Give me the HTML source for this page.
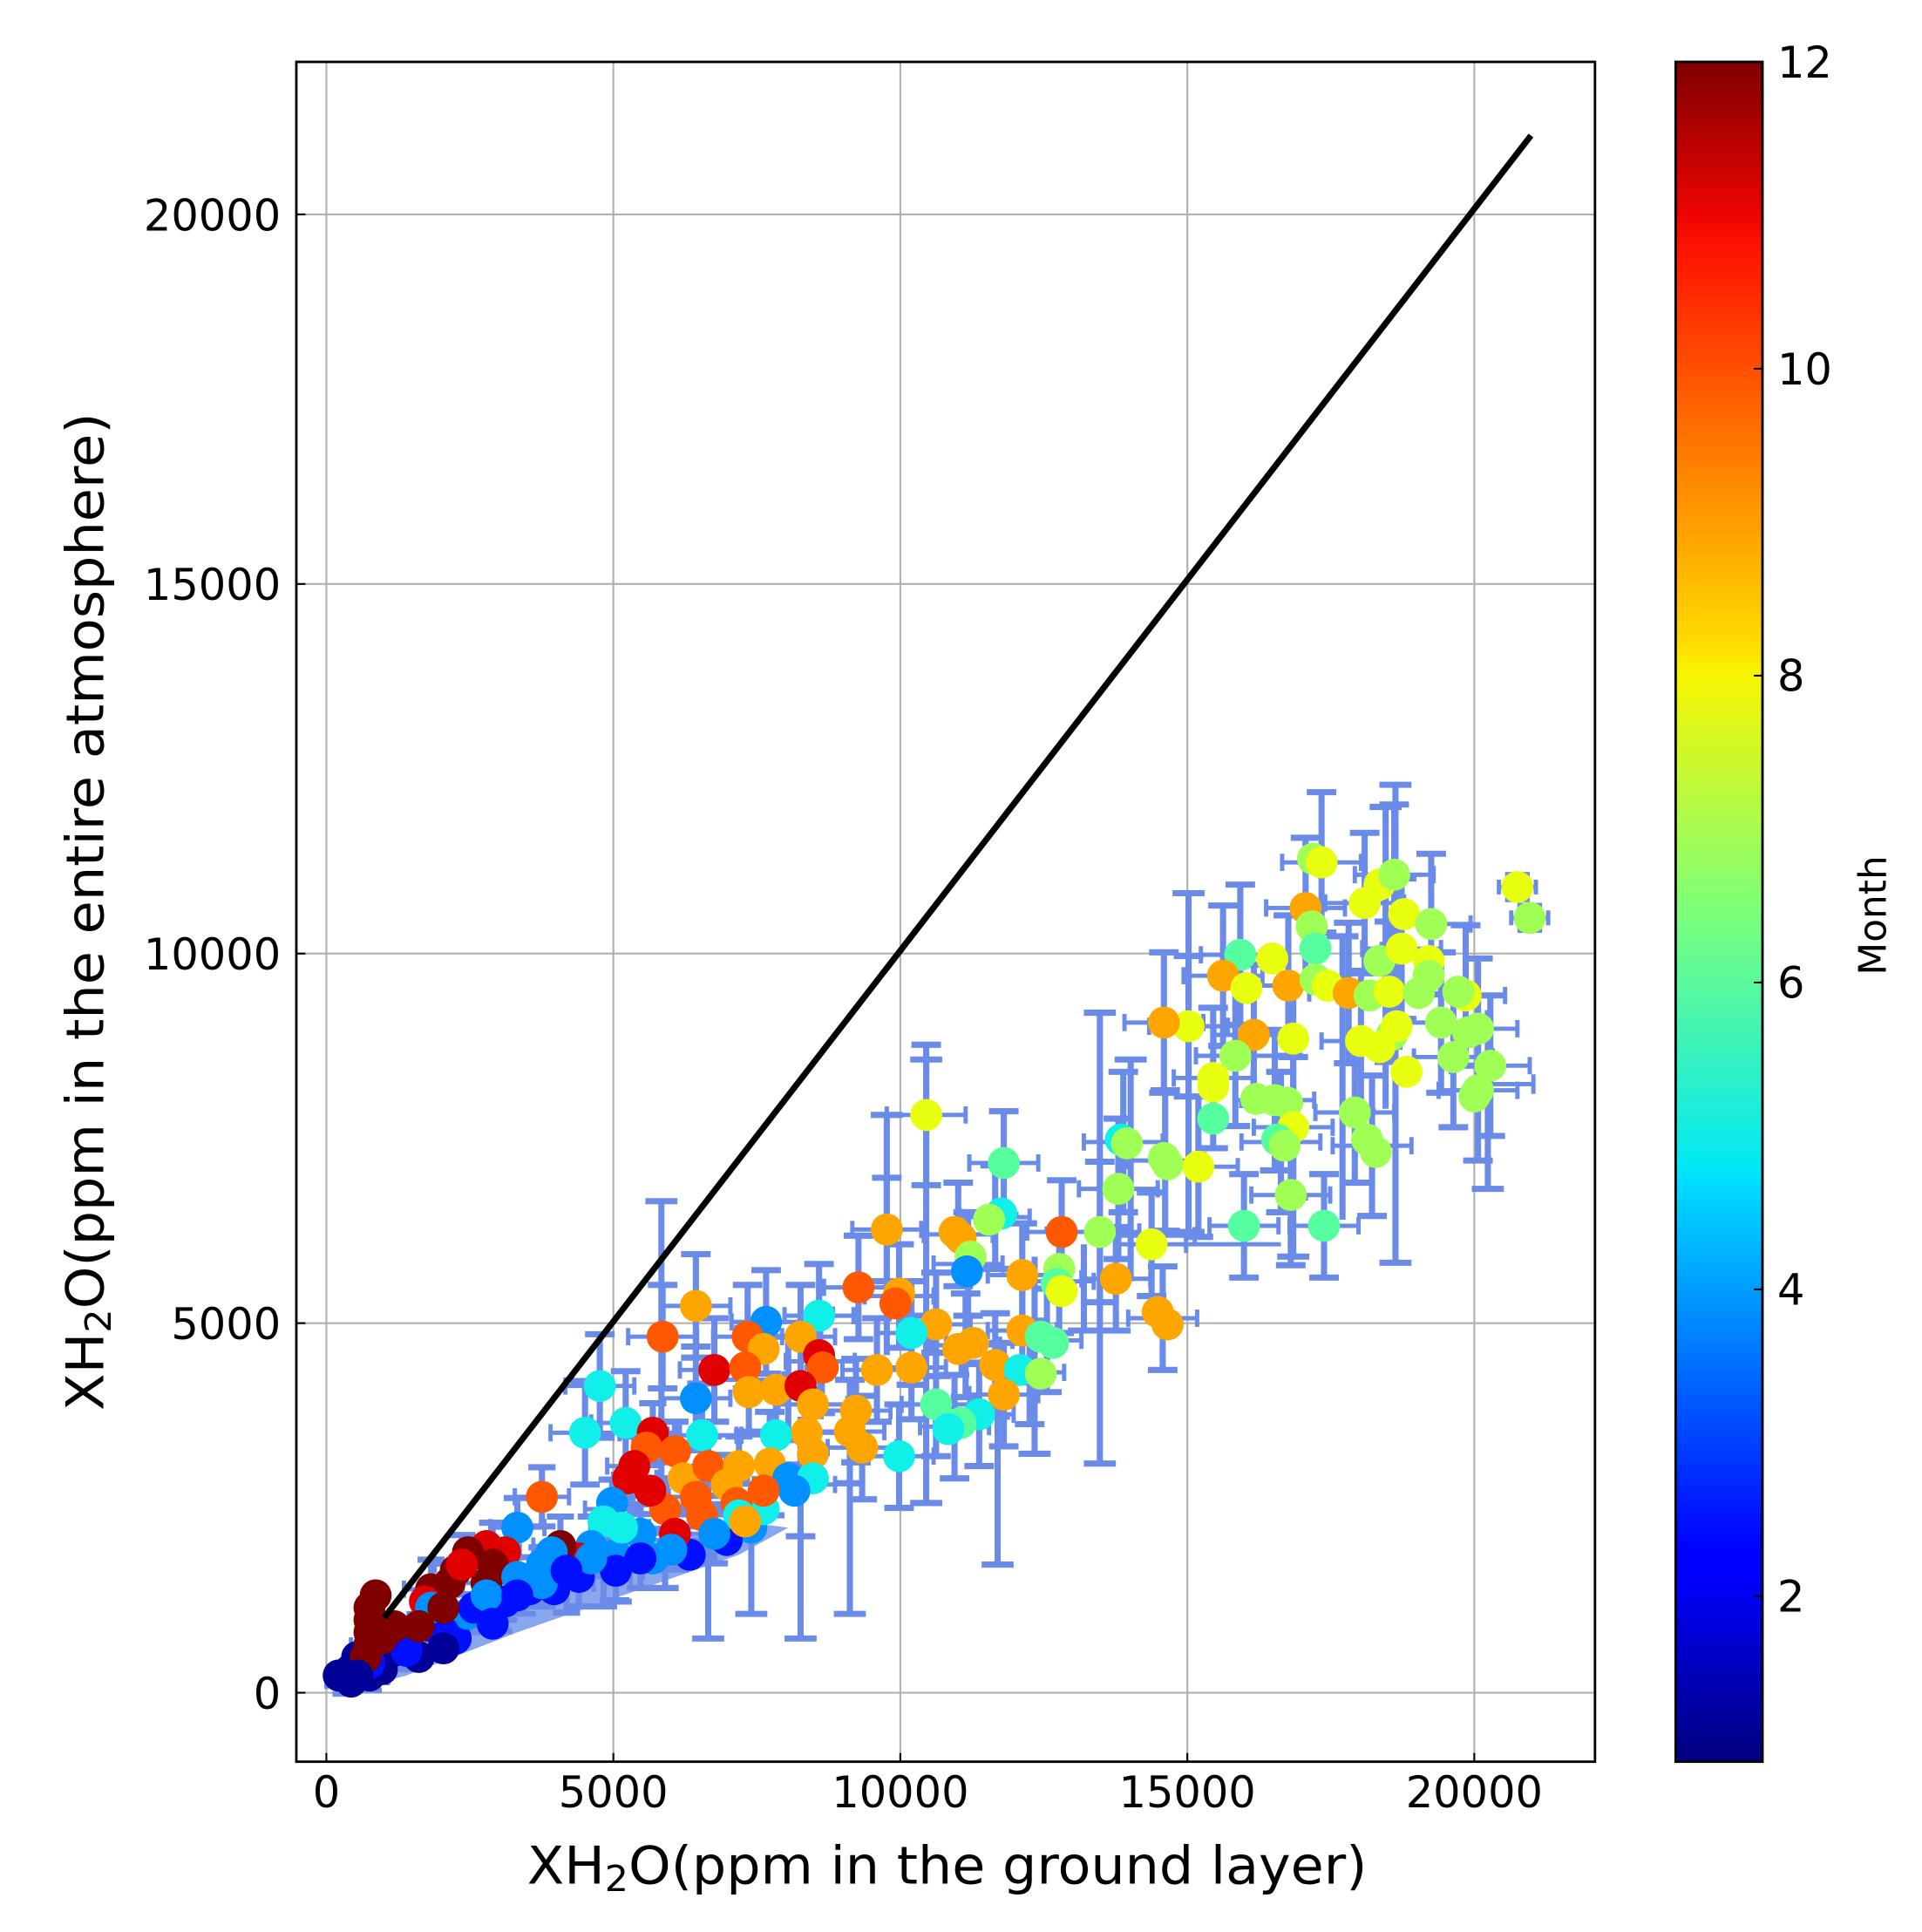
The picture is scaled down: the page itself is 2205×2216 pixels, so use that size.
<!DOCTYPE html>
<html><head><meta charset="utf-8"><style>
html,body{margin:0;padding:0;background:#fff;}
svg{display:block;}
text{font-family:"DejaVu Sans","Liberation Sans",sans-serif;fill:#000;}
circle{r:13px;}
.N{fill:#000096}.B{fill:#0010ff}.A{fill:#0090ff}.C{fill:#10f0e8}.M{fill:#55ff9f}.G{fill:#a0ff55}.Y{fill:#e8ff10}.O{fill:#ffa500}.R{fill:#ff5800}.E{fill:#e00000}.D{fill:#800000}
</style></head><body>
<svg xmlns="http://www.w3.org/2000/svg" xmlns:xlink="http://www.w3.org/1999/xlink" width="2205" height="2216" viewBox="0 0 1560.5 1568.2">
<defs>
<linearGradient id="jet" x1="0" y1="1" x2="0" y2="0">
<stop offset="0" stop-color="#00007f"/>
<stop offset="0.11" stop-color="#0000ff"/>
<stop offset="0.125" stop-color="#0000ff"/>
<stop offset="0.34" stop-color="#00dcff"/>
<stop offset="0.35" stop-color="#02e8f4"/>
<stop offset="0.5" stop-color="#7dff7a"/>
<stop offset="0.64" stop-color="#f8f500"/>
<stop offset="0.66" stop-color="#ffd900"/>
<stop offset="0.89" stop-color="#ff1300"/>
<stop offset="0.91" stop-color="#ed0400"/>
<stop offset="1" stop-color="#7f0000"/>
</linearGradient>
<g id="e1" stroke="#6a8ce8" fill="none"><path d="M0,-10V10M-10,-10H10M-10,10H10" stroke-width="4.5"/><path d="M-15,0H15M-15,-6V6M15,-6V6" stroke-width="3.5"/></g>
<g id="e2" stroke="#6a8ce8" fill="none"><path d="M0,-24V24M-11,-24H11M-11,24H11" stroke-width="5"/><path d="M-22,0H22M-22,-7V7M22,-7V7" stroke-width="3.5"/></g>
<g id="e3" stroke="#6a8ce8" fill="none"><path d="M0,-42V42M-12,-42H12M-12,42H12" stroke-width="5"/><path d="M-28,0H28M-28,-7V7M28,-7V7" stroke-width="3.5"/></g>
<g id="e4" stroke="#6a8ce8" fill="none"><path d="M0,-57V57M-12,-57H12M-12,57H12" stroke-width="5"/><path d="M-32,0H32M-32,-7V7M32,-7V7" stroke-width="3.5"/></g>
</defs>
<rect width="1560.5" height="1568.2" fill="#fff"/>
<g stroke="#b0b0b0" stroke-width="1.5">
<line x1="265" y1="50.2" x2="265" y2="1430"/><line x1="498" y1="50.2" x2="498" y2="1430"/>
<line x1="731" y1="50.2" x2="731" y2="1430"/><line x1="964" y1="50.2" x2="964" y2="1430"/>
<line x1="1197" y1="50.2" x2="1197" y2="1430"/>
<line x1="240.6" y1="1374" x2="1295" y2="1374"/><line x1="240.6" y1="1074" x2="1295" y2="1074"/>
<line x1="240.6" y1="774" x2="1295" y2="774"/><line x1="240.6" y1="474" x2="1295" y2="474"/>
<line x1="240.6" y1="174" x2="1295" y2="174"/>
</g>
<g>
<path fill="#8aa6ee" d="M285,1372 L330,1360 L420,1325 L520,1290 L600,1262 L640,1240 L600,1235 L500,1262 L400,1292 L320,1330 L280,1350Z"/>
<use xlink:href="#e4" x="1073" y="700"/><use xlink:href="#e4" x="1060" y="737"/><use xlink:href="#e4" x="1108" y="733"/><use xlink:href="#e4" x="1132" y="710"/><use xlink:href="#e4" x="1162" y="750"/><use xlink:href="#e1" x="1232" y="720"/><use xlink:href="#e1" x="1242" y="745"/>
<use xlink:href="#e4" x="1007" y="775"/><use xlink:href="#e4" x="1046" y="800"/><use xlink:href="#e4" x="1095" y="806"/><use xlink:href="#e4" x="1138" y="770"/><use xlink:href="#e4" x="1190" y="808"/>
<use xlink:href="#e4" x="993" y="792"/><use xlink:href="#e4" x="1128" y="805"/><use xlink:href="#e4" x="965" y="833"/><use xlink:href="#e4" x="945" y="830"/><use xlink:href="#e4" x="1018" y="840"/><use xlink:href="#e4" x="1105" y="845"/><use xlink:href="#e4" x="1170" y="830"/><use xlink:href="#e4" x="1200" y="835"/>
<use xlink:href="#e4" x="1003" y="857"/><use xlink:href="#e4" x="1180" y="858"/><use xlink:href="#e4" x="1210" y="865"/><use xlink:href="#e4" x="985" y="875"/><use xlink:href="#e4" x="1035" y="893"/><use xlink:href="#e4" x="1200" y="885"/>
<use xlink:href="#e4" x="752" y="905"/><use xlink:href="#e4" x="1050" y="915"/><use xlink:href="#e4" x="1100" y="903"/><use xlink:href="#e4" x="1040" y="927"/><use xlink:href="#e4" x="1114" y="930"/><use xlink:href="#e4" x="912" y="927"/><use xlink:href="#e4" x="946" y="942"/><use xlink:href="#e3" x="815" y="944"/>
<use xlink:href="#e4" x="973" y="947"/><use xlink:href="#e4" x="908" y="965"/><use xlink:href="#e4" x="1048" y="970"/><use xlink:href="#e3" x="808" y="988"/><use xlink:href="#e4" x="893" y="1000"/><use xlink:href="#e3" x="1010" y="995"/><use xlink:href="#e3" x="1075" y="995"/><use xlink:href="#e3" x="935" y="1010"/>
<use xlink:href="#e3" x="720" y="998"/><use xlink:href="#e3" x="778" y="1002"/><use xlink:href="#e3" x="862" y="1000"/><use xlink:href="#e3" x="786" y="1026"/><use xlink:href="#e3" x="697" y="1045"/><use xlink:href="#e3" x="730" y="1052"/><use xlink:href="#e3" x="830" y="1035"/><use xlink:href="#e3" x="860" y="1040"/><use xlink:href="#e3" x="906" y="1038"/>
<use xlink:href="#e3" x="565" y="1060"/><use xlink:href="#e3" x="622" y="1073"/><use xlink:href="#e3" x="665" y="1068"/><use xlink:href="#e3" x="538" y="1085"/><use xlink:href="#e3" x="607" y="1085"/><use xlink:href="#e3" x="650" y="1085"/><use xlink:href="#e3" x="760" y="1075"/><use xlink:href="#e3" x="784" y="1092"/><use xlink:href="#e3" x="830" y="1080"/><use xlink:href="#e3" x="850" y="1088"/><use xlink:href="#e3" x="944" y="1070"/><use xlink:href="#e3" x="740" y="1082"/>
<use xlink:href="#e3" x="666" y="1105"/><use xlink:href="#e3" x="712" y="1112"/><use xlink:href="#e3" x="740" y="1110"/><use xlink:href="#e3" x="808" y="1108"/><use xlink:href="#e3" x="836" y="1114"/><use xlink:href="#e3" x="580" y="1112"/><use xlink:href="#e3" x="608" y="1120"/><use xlink:href="#e3" x="640" y="1127"/><use xlink:href="#e3" x="487" y="1125"/><use xlink:href="#e3" x="565" y="1135"/>
<use xlink:href="#e3" x="660" y="1140"/><use xlink:href="#e3" x="695" y="1145"/><use xlink:href="#e3" x="760" y="1140"/><use xlink:href="#e3" x="815" y="1132"/><use xlink:href="#e3" x="795" y="1148"/><use xlink:href="#e3" x="775" y="1158"/><use xlink:href="#e3" x="655" y="1163"/><use xlink:href="#e3" x="475" y="1163"/><use xlink:href="#e3" x="508" y="1155"/><use xlink:href="#e3" x="570" y="1165"/><use xlink:href="#e3" x="630" y="1165"/><use xlink:href="#e3" x="690" y="1162"/><use xlink:href="#e3" x="700" y="1175"/><use xlink:href="#e3" x="730" y="1182"/><use xlink:href="#e3" x="625" y="1188"/><use xlink:href="#e3" x="650" y="1205"/>
<use xlink:href="#e2" x="530" y="1163"/><use xlink:href="#e2" x="515" y="1190"/><use xlink:href="#e2" x="548" y="1178"/><use xlink:href="#e2" x="520" y="1205"/><use xlink:href="#e2" x="555" y="1200"/><use xlink:href="#e2" x="575" y="1190"/><use xlink:href="#e2" x="600" y="1190"/><use xlink:href="#e2" x="590" y="1205"/><use xlink:href="#e2" x="565" y="1215"/><use xlink:href="#e2" x="598" y="1225"/><use xlink:href="#e2" x="570" y="1230"/><use xlink:href="#e2" x="580" y="1245"/><use xlink:href="#e2" x="548" y="1250"/><use xlink:href="#e2" x="520" y="1245"/><use xlink:href="#e2" x="497" y="1225"/><use xlink:href="#e2" x="505" y="1240"/><use xlink:href="#e2" x="480" y="1255"/><use xlink:href="#e2" x="455" y="1255"/><use xlink:href="#e2" x="440" y="1215"/>
<use xlink:href="#e2" x="420" y="1240"/><use xlink:href="#e2" x="400" y="1260"/><use xlink:href="#e2" x="375" y="1270"/><use xlink:href="#e2" x="395" y="1285"/><use xlink:href="#e2" x="350" y="1290"/><use xlink:href="#e2" x="405" y="1300"/><use xlink:href="#e2" x="440" y="1280"/><use xlink:href="#e2" x="470" y="1280"/><use xlink:href="#e2" x="500" y="1275"/><use xlink:href="#e2" x="520" y="1265"/><use xlink:href="#e2" x="460" y="1285"/><use xlink:href="#e2" x="540" y="1265"/><use xlink:href="#e2" x="490" y="1280"/>
<use xlink:href="#e1" x="340" y="1320"/><use xlink:href="#e1" x="300" y="1335"/><use xlink:href="#e1" x="290" y="1355"/><use xlink:href="#e1" x="300" y="1362"/><use xlink:href="#e1" x="320" y="1345"/><use xlink:href="#e1" x="350" y="1330"/><use xlink:href="#e1" x="380" y="1315"/><use xlink:href="#e1" x="410" y="1305"/><use xlink:href="#e1" x="440" y="1290"/><use xlink:href="#e1" x="360" y="1330"/><use xlink:href="#e1" x="280" y="1365"/><use xlink:href="#e1" x="330" y="1345"/><use xlink:href="#e1" x="395" y="1312"/><use xlink:href="#e1" x="425" y="1300"/>
<path stroke="#6a8ce8" stroke-width="5" fill="none" d="M537,975V1200M524,975H550M524,1200H550 M575,1200V1330M562,1330H588 M650,1150V1330M637,1330H663 M690,1150V1310M677,1310H703 M893,822V1188M880,822H906M880,1188H906 M965,725V1000M952,725H978M952,1000H978 M1125,655V900M1112,655H1138 M1133,637V1025M1120,637H1146M1120,1025H1146 M1208,820V965M1195,965H1221 M752,860V1220M739,860H765M739,1220H765 M720,905V1100M707,905H733 M1050,790V1020M1037,1020H1063 M918,860V1040M905,860H931 M840,1020V1180M827,1180H853 M1090,760V990M1077,760H1103 M810,1130V1270M797,1270H823 M500,1220V1300M487,1300H513 M610,1240V1310M597,1310H623 M880,1010V1080M867,1080H893"/>
<path stroke="#6a8ce8" stroke-width="3.5" fill="none" d="M890,1003H970M970,996V1010 M1195,880H1245M1245,872V888 M1100,710H1155 M960,1010H1040"/>
</g>
<g>
<circle class="G" cx="1066" cy="697" r="11.5"/><circle class="Y" cx="1073" cy="700" r="11.5"/><circle class="O" cx="1060" cy="737" r="11.5"/><circle class="G" cx="1065" cy="752" r="11.5"/><circle class="Y" cx="1108" cy="733" r="11.5"/><circle class="Y" cx="1120" cy="718" r="11.5"/><circle class="G" cx="1132" cy="710" r="11.5"/><circle class="Y" cx="1140" cy="742" r="11.5"/><circle class="G" cx="1162" cy="750" r="11.5"/><circle class="Y" cx="1232" cy="720" r="11.5"/><circle class="G" cx="1242" cy="745" r="11.5"/>
<circle class="M" cx="1007" cy="775" r="11.5"/><circle class="Y" cx="1033" cy="778" r="11.5"/><circle class="O" cx="1046" cy="800" r="11.5"/><circle class="M" cx="1068" cy="770" r="11.5"/><circle class="G" cx="1068" cy="795" r="11.5"/><circle class="Y" cx="1078" cy="800" r="11.5"/><circle class="O" cx="1095" cy="806" r="11.5"/><circle class="G" cx="1120" cy="780" r="11.5"/><circle class="Y" cx="1138" cy="770" r="11.5"/><circle class="Y" cx="1160" cy="780" r="11.5"/><circle class="Y" cx="1190" cy="808" r="11.5"/><circle class="G" cx="1160" cy="792" r="11.5"/>
<circle class="O" cx="993" cy="792" r="11.5"/><circle class="Y" cx="1012" cy="802" r="11.5"/><circle class="G" cx="1112" cy="808" r="11.5"/><circle class="Y" cx="1128" cy="805" r="11.5"/><circle class="G" cx="1152" cy="806" r="11.5"/><circle class="G" cx="1184" cy="805" r="11.5"/><circle class="Y" cx="965" cy="833" r="11.5"/><circle class="O" cx="945" cy="830" r="11.5"/><circle class="O" cx="1018" cy="840" r="11.5"/><circle class="Y" cx="1050" cy="843" r="11.5"/><circle class="Y" cx="1105" cy="845" r="11.5"/><circle class="G" cx="1130" cy="840" r="11.5"/><circle class="Y" cx="1134" cy="833" r="11.5"/><circle class="G" cx="1170" cy="830" r="11.5"/><circle class="G" cx="1192" cy="838" r="11.5"/><circle class="G" cx="1200" cy="835" r="11.5"/>
<circle class="G" cx="1003" cy="857" r="11.5"/><circle class="Y" cx="1120" cy="850" r="11.5"/><circle class="G" cx="1180" cy="858" r="11.5"/><circle class="G" cx="1210" cy="865" r="11.5"/><circle class="Y" cx="1142" cy="870" r="11.5"/><circle class="Y" cx="985" cy="875" r="11.5"/><circle class="Y" cx="985" cy="882" r="11.5"/><circle class="G" cx="1020" cy="892" r="11.5"/><circle class="G" cx="1035" cy="893" r="11.5"/><circle class="G" cx="1045" cy="895" r="11.5"/><circle class="G" cx="1200" cy="885" r="11.5"/><circle class="G" cx="1197" cy="890" r="11.5"/>
<circle class="M" cx="985" cy="908" r="11.5"/><circle class="Y" cx="752" cy="905" r="11.5"/><circle class="Y" cx="1050" cy="915" r="11.5"/><circle class="G" cx="1100" cy="903" r="11.5"/><circle class="M" cx="1037" cy="925" r="11.5"/><circle class="G" cx="1043" cy="930" r="11.5"/><circle class="G" cx="1110" cy="925" r="11.5"/><circle class="G" cx="1117" cy="935" r="11.5"/><circle class="C" cx="910" cy="925" r="11.5"/><circle class="G" cx="915" cy="928" r="11.5"/><circle class="G" cx="945" cy="940" r="11.5"/><circle class="G" cx="948" cy="945" r="11.5"/><circle class="M" cx="815" cy="944" r="11.5"/>
<circle class="Y" cx="973" cy="947" r="11.5"/><circle class="G" cx="908" cy="965" r="11.5"/><circle class="G" cx="1048" cy="970" r="11.5"/><circle class="C" cx="813" cy="985" r="11.5"/><circle class="G" cx="803" cy="990" r="11.5"/><circle class="G" cx="893" cy="1000" r="11.5"/><circle class="M" cx="1010" cy="995" r="11.5"/><circle class="M" cx="1075" cy="995" r="11.5"/><circle class="Y" cx="935" cy="1010" r="11.5"/>
<circle class="O" cx="720" cy="998" r="11.5"/><circle class="O" cx="775" cy="1000" r="11.5"/><circle class="O" cx="780" cy="1005" r="11.5"/><circle class="R" cx="862" cy="1000" r="11.5"/><circle class="G" cx="788" cy="1020" r="11.5"/><circle class="A" cx="785" cy="1032" r="11.5"/><circle class="R" cx="697" cy="1045" r="11.5"/><circle class="O" cx="730" cy="1050" r="11.5"/><circle class="R" cx="727" cy="1058" r="11.5"/><circle class="O" cx="830" cy="1035" r="11.5"/><circle class="G" cx="860" cy="1030" r="11.5"/><circle class="M" cx="858" cy="1042" r="11.5"/><circle class="Y" cx="862" cy="1048" r="11.5"/><circle class="O" cx="906" cy="1038" r="11.5"/>
<circle class="O" cx="565" cy="1060" r="11.5"/><circle class="A" cx="622" cy="1073" r="11.5"/><circle class="C" cx="665" cy="1068" r="11.5"/><circle class="R" cx="538" cy="1085" r="11.5"/><circle class="R" cx="607" cy="1085" r="11.5"/><circle class="O" cx="650" cy="1085" r="11.5"/><circle class="O" cx="620" cy="1095" r="11.5"/><circle class="O" cx="760" cy="1075" r="11.5"/><circle class="O" cx="778" cy="1095" r="11.5"/><circle class="O" cx="790" cy="1090" r="11.5"/><circle class="O" cx="830" cy="1080" r="11.5"/><circle class="M" cx="845" cy="1085" r="11.5"/><circle class="M" cx="855" cy="1090" r="11.5"/><circle class="O" cx="940" cy="1065" r="11.5"/><circle class="O" cx="948" cy="1075" r="11.5"/><circle class="C" cx="740" cy="1082" r="11.5"/>
<circle class="E" cx="665" cy="1100" r="11.5"/><circle class="R" cx="668" cy="1110" r="11.5"/><circle class="O" cx="712" cy="1112" r="11.5"/><circle class="O" cx="740" cy="1110" r="11.5"/><circle class="O" cx="808" cy="1108" r="11.5"/><circle class="C" cx="828" cy="1112" r="11.5"/><circle class="G" cx="845" cy="1115" r="11.5"/><circle class="E" cx="580" cy="1112" r="11.5"/><circle class="R" cx="605" cy="1110" r="11.5"/><circle class="O" cx="608" cy="1130" r="11.5"/><circle class="O" cx="630" cy="1128" r="11.5"/><circle class="E" cx="650" cy="1125" r="11.5"/><circle class="C" cx="487" cy="1125" r="11.5"/><circle class="A" cx="565" cy="1135" r="11.5"/>
<circle class="O" cx="660" cy="1140" r="11.5"/><circle class="O" cx="695" cy="1145" r="11.5"/><circle class="M" cx="760" cy="1140" r="11.5"/><circle class="O" cx="815" cy="1132" r="11.5"/><circle class="C" cx="795" cy="1148" r="11.5"/><circle class="M" cx="780" cy="1155" r="11.5"/><circle class="C" cx="770" cy="1160" r="11.5"/><circle class="O" cx="655" cy="1163" r="11.5"/><circle class="C" cx="475" cy="1163" r="11.5"/><circle class="C" cx="508" cy="1155" r="11.5"/><circle class="C" cx="570" cy="1165" r="11.5"/><circle class="C" cx="630" cy="1165" r="11.5"/><circle class="O" cx="690" cy="1162" r="11.5"/><circle class="O" cx="700" cy="1175" r="11.5"/><circle class="O" cx="660" cy="1180" r="11.5"/><circle class="C" cx="730" cy="1182" r="11.5"/><circle class="O" cx="625" cy="1188" r="11.5"/><circle class="A" cx="640" cy="1200" r="11.5"/><circle class="C" cx="660" cy="1200" r="11.5"/><circle class="A" cx="645" cy="1210" r="11.5"/>
<circle class="A" cx="610" cy="1240" r="11.5"/><circle class="B" cx="560" cy="1262" r="11.5"/><circle class="A" cx="530" cy="1265" r="11.5"/><circle class="B" cx="590" cy="1250" r="11.5"/><circle class="C" cx="620" cy="1225" r="11.5"/><circle class="R" cx="620" cy="1210" r="11.5"/><circle class="R" cx="540" cy="1225" r="11.5"/><circle class="A" cx="500" cy="1262" r="11.5"/>
<circle class="E" cx="530" cy="1163" r="11.5"/><circle class="R" cx="525" cy="1175" r="11.5"/><circle class="E" cx="515" cy="1190" r="11.5"/><circle class="R" cx="548" cy="1178" r="11.5"/><circle class="E" cx="510" cy="1200" r="11.5"/><circle class="E" cx="528" cy="1210" r="11.5"/><circle class="O" cx="555" cy="1200" r="11.5"/><circle class="R" cx="575" cy="1190" r="11.5"/><circle class="O" cx="600" cy="1190" r="11.5"/><circle class="O" cx="590" cy="1205" r="11.5"/><circle class="R" cx="565" cy="1215" r="11.5"/><circle class="R" cx="598" cy="1220" r="11.5"/><circle class="C" cx="600" cy="1230" r="11.5"/><circle class="O" cx="605" cy="1235" r="11.5"/><circle class="R" cx="570" cy="1230" r="11.5"/><circle class="A" cx="580" cy="1245" r="11.5"/><circle class="E" cx="548" cy="1245" r="11.5"/><circle class="A" cx="545" cy="1258" r="11.5"/><circle class="A" cx="520" cy="1245" r="11.5"/><circle class="A" cx="497" cy="1220" r="11.5"/><circle class="C" cx="490" cy="1235" r="11.5"/><circle class="C" cx="505" cy="1240" r="11.5"/><circle class="A" cx="480" cy="1255" r="11.5"/><circle class="E" cx="470" cy="1265" r="11.5"/><circle class="D" cx="455" cy="1255" r="11.5"/><circle class="R" cx="440" cy="1215" r="11.5"/><circle class="A" cx="448" cy="1260" r="11.5"/>
<circle class="A" cx="420" cy="1240" r="11.5"/><circle class="E" cx="410" cy="1260" r="11.5"/><circle class="E" cx="395" cy="1255" r="11.5"/><circle class="D" cx="380" cy="1260" r="11.5"/><circle class="D" cx="400" cy="1270" r="11.5"/><circle class="D" cx="370" cy="1275" r="11.5"/><circle class="D" cx="365" cy="1285" r="11.5"/><circle class="D" cx="395" cy="1285" r="11.5"/><circle class="E" cx="375" cy="1270" r="11.5"/><circle class="D" cx="350" cy="1290" r="11.5"/><circle class="E" cx="345" cy="1300" r="11.5"/><circle class="A" cx="405" cy="1300" r="11.5"/><circle class="B" cx="430" cy="1290" r="11.5"/><circle class="B" cx="450" cy="1290" r="11.5"/><circle class="B" cx="470" cy="1280" r="11.5"/><circle class="A" cx="440" cy="1270" r="11.5"/><circle class="A" cx="420" cy="1280" r="11.5"/>
<circle class="N" cx="275" cy="1360" r="11.5"/><circle class="N" cx="285" cy="1365" r="11.5"/><circle class="N" cx="310" cy="1355" r="11.5"/><circle class="N" cx="340" cy="1345" r="11.5"/><circle class="B" cx="370" cy="1330" r="11.5"/><circle class="N" cx="290" cy="1345" r="11.5"/><circle class="N" cx="285" cy="1355" r="11.5"/><circle class="N" cx="300" cy="1360" r="11.5"/><circle class="N" cx="320" cy="1340" r="11.5"/><circle class="B" cx="330" cy="1330" r="11.5"/><circle class="B" cx="350" cy="1320" r="11.5"/><circle class="A" cx="380" cy="1310" r="11.5"/><circle class="A" cx="395" cy="1308" r="11.5"/><circle class="B" cx="300" cy="1350" r="11.5"/><circle class="B" cx="330" cy="1340" r="11.5"/><circle class="B" cx="360" cy="1325" r="11.5"/><circle class="B" cx="385" cy="1305" r="11.5"/><circle class="B" cx="410" cy="1300" r="11.5"/><circle class="A" cx="440" cy="1285" r="11.5"/><circle class="B" cx="500" cy="1275" r="11.5"/><circle class="B" cx="520" cy="1265" r="11.5"/><circle class="A" cx="395" cy="1295" r="11.5"/><circle class="A" cx="350" cy="1305" r="11.5"/><circle class="B" cx="420" cy="1295" r="11.5"/><circle class="A" cx="480" cy="1265" r="11.5"/><circle class="B" cx="460" cy="1275" r="11.5"/><circle class="N" cx="360" cy="1338" r="11.5"/><circle class="B" cx="400" cy="1318" r="11.5"/>
<circle class="D" cx="360" cy="1305" r="11.5"/><circle class="D" cx="340" cy="1320" r="11.5"/><circle class="D" cx="320" cy="1320" r="11.5"/><circle class="D" cx="300" cy="1315" r="11.5"/><circle class="D" cx="300" cy="1335" r="11.5"/><circle class="D" cx="310" cy="1330" r="11.5"/><circle class="D" cx="300" cy="1325" r="11.5"/><circle class="D" cx="297" cy="1345" r="11.5"/><circle class="D" cx="300" cy="1305" r="11.5"/><circle class="D" cx="305" cy="1295" r="11.5"/><circle class="N" cx="290" cy="1360" r="11.5"/>
</g>
<line x1="312" y1="1313" x2="1243" y2="110" stroke="#000" stroke-width="5"/>
<g stroke="#000" stroke-width="1.5">
<line x1="265" y1="1430" x2="265" y2="1423"/><line x1="498" y1="1430" x2="498" y2="1423"/>
<line x1="731" y1="1430" x2="731" y2="1423"/><line x1="964" y1="1430" x2="964" y2="1423"/>
<line x1="1197" y1="1430" x2="1197" y2="1423"/>
<line x1="240.6" y1="1374" x2="248" y2="1374"/><line x1="240.6" y1="1074" x2="248" y2="1074"/>
<line x1="240.6" y1="774" x2="248" y2="774"/><line x1="240.6" y1="474" x2="248" y2="474"/>
<line x1="240.6" y1="174" x2="248" y2="174"/>
</g>
<rect x="240.6" y="50.2" width="1054.4" height="1379.8" fill="none" stroke="#000" stroke-width="2"/>
<g font-size="35" text-anchor="middle">
<text x="265" y="1467">0</text><text x="498" y="1467">5000</text><text x="731" y="1467">10000</text>
<text x="964" y="1467">15000</text><text x="1197" y="1467">20000</text>
</g>
<g font-size="35" text-anchor="end">
<text x="228" y="1387">0</text><text x="228" y="1087">5000</text><text x="228" y="787">10000</text>
<text x="228" y="487">15000</text><text x="228" y="187">20000</text>
</g>
<text x="769" y="1529" font-size="42" text-anchor="middle" textLength="682" lengthAdjust="spacingAndGlyphs">XH<tspan font-size="29" dy="6">2</tspan><tspan dy="-6">O(ppm in the ground layer)</tspan></text>
<text transform="translate(84,740) rotate(-90)" font-size="42" text-anchor="middle" textLength="810" lengthAdjust="spacingAndGlyphs">XH<tspan font-size="29" dy="6">2</tspan><tspan dy="-6">O(ppm in the entire atmosphere)</tspan></text>
<rect x="1360.5" y="50.2" width="70.5" height="1379.8" fill="url(#jet)" stroke="#000" stroke-width="2"/>
<g stroke="#000" stroke-width="1.5">
<line x1="1431" y1="299.3" x2="1424" y2="299.3"/><line x1="1431" y1="548.4" x2="1424" y2="548.4"/>
<line x1="1431" y1="797.5" x2="1424" y2="797.5"/><line x1="1431" y1="1046.6" x2="1424" y2="1046.6"/>
<line x1="1431" y1="1295.7" x2="1424" y2="1295.7"/>
</g>
<g font-size="35">
<text x="1443" y="63">12</text><text x="1443" y="312">10</text><text x="1443" y="561">8</text>
<text x="1443" y="810">6</text><text x="1443" y="1059">4</text><text x="1443" y="1308">2</text>
</g>
<text transform="translate(1531,743) rotate(-90)" font-size="31" text-anchor="middle">Month</text>
</svg>
</body></html>
